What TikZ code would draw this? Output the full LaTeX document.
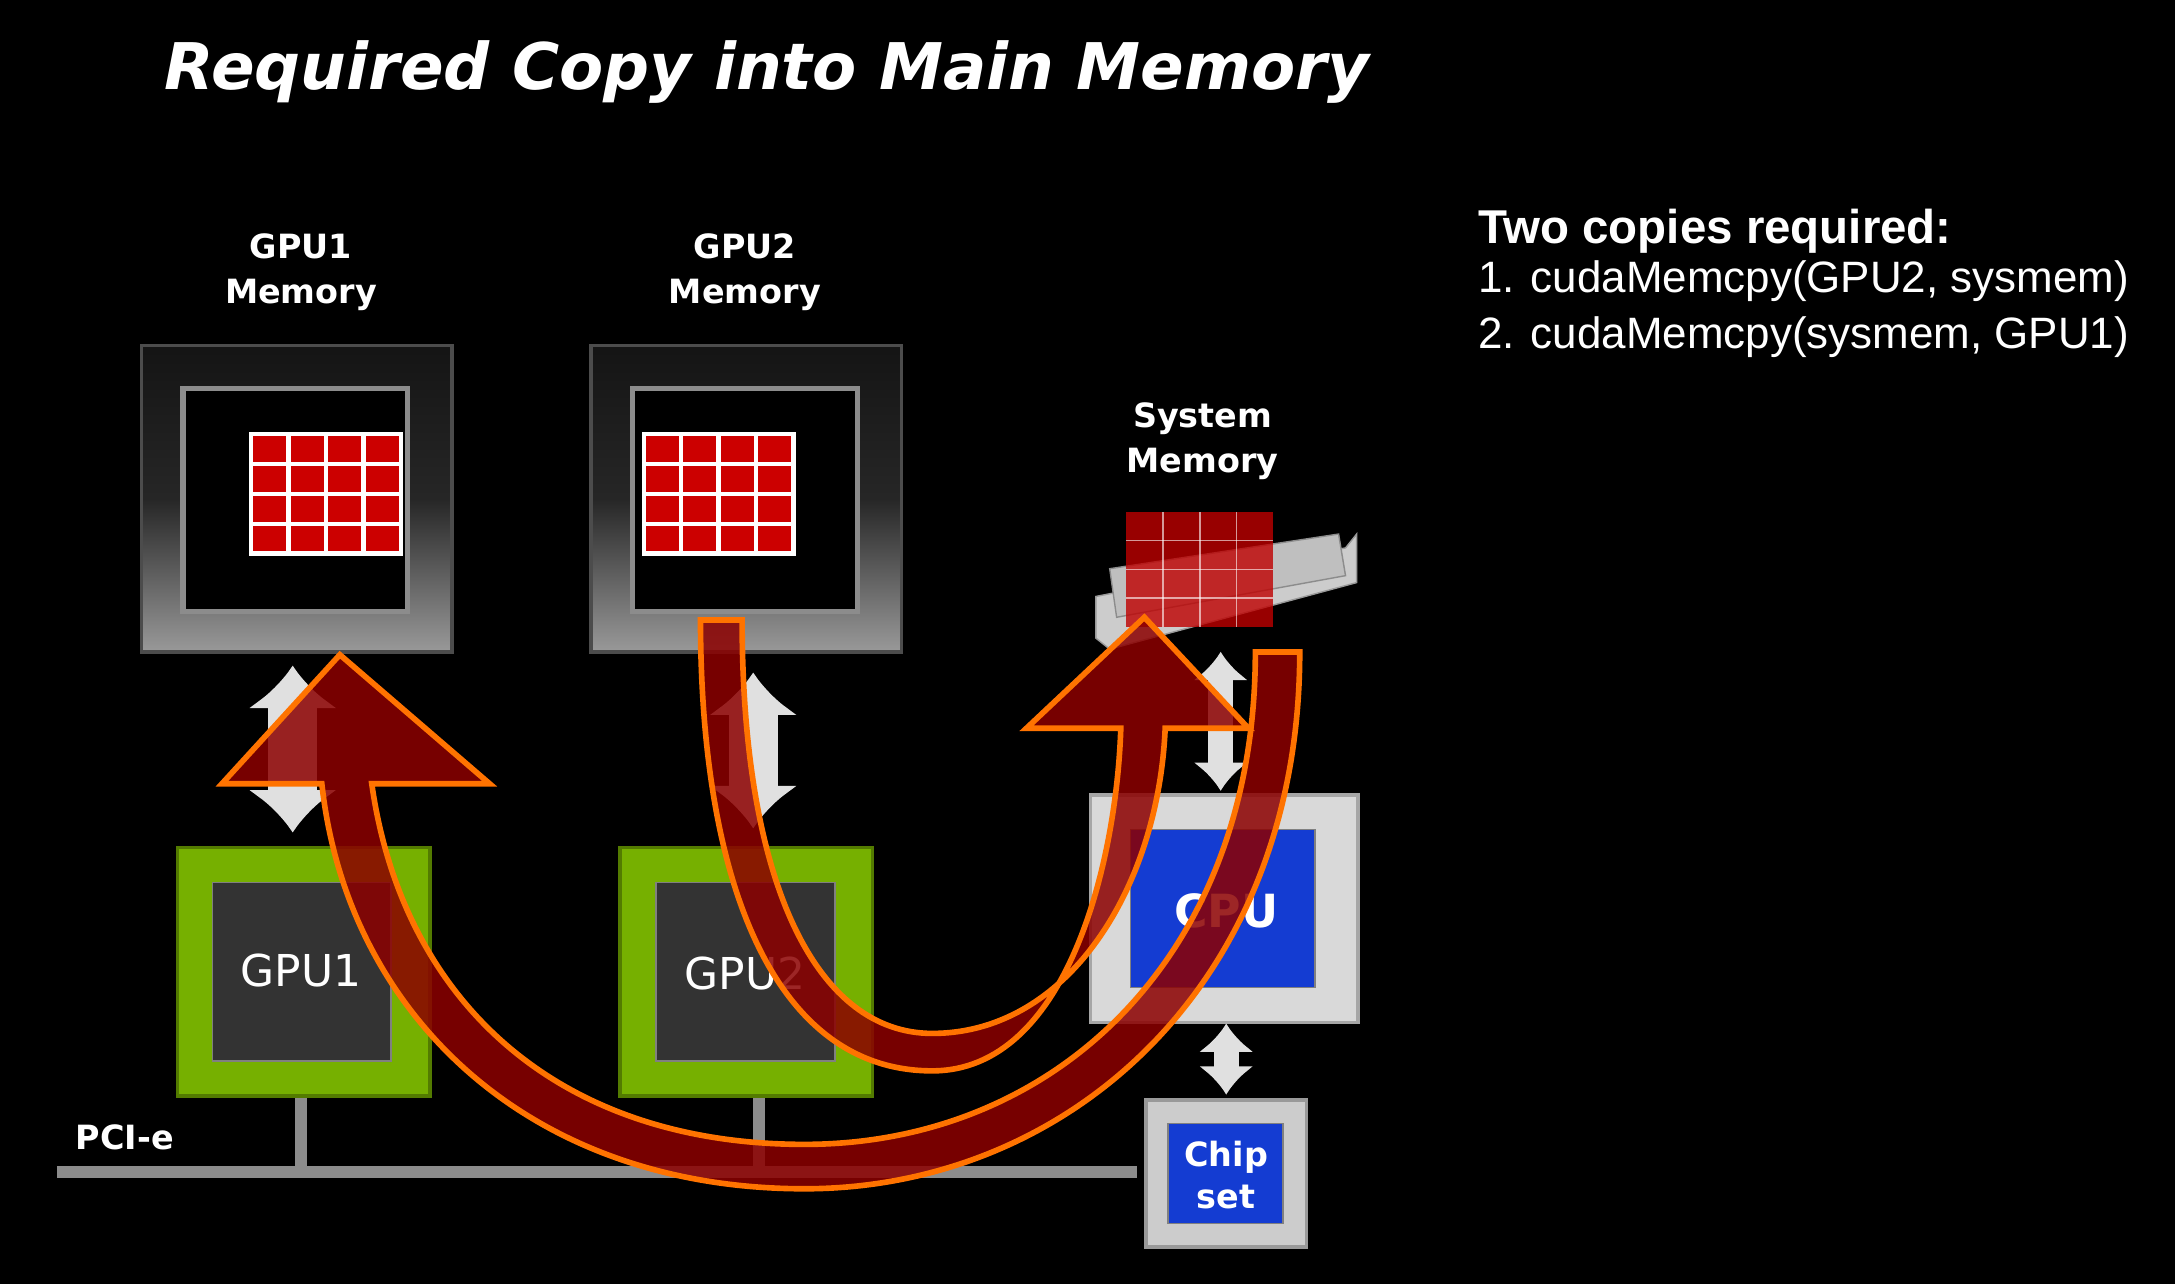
\documentclass[tikz,border=0pt]{standalone}
\usepackage{fontspec}
\usetikzlibrary{arrows.meta}
\setmainfont{DejaVu Sans}
\newfontfamily\arialf{Liberation Sans}
\definecolor{nvg}{RGB}{118,176,0}
\definecolor{cpub}{RGB}{20,60,210}
\begin{document}
\begin{tikzpicture}[x=0.01387cm,y=-0.01387cm,
  lbl/.style={text=white,font=\fontsize{9.5}{12.8}\selectfont\bfseries,align=center},
  memout/.style={draw=black!70,line width=1pt,top color=black!92,bottom color=black!40,middle color=black!85},
  memin/.style={draw=black!45,line width=1.5pt,fill=black},
  grid/.style={fill=red!80!black,draw=white,line width=1.2pt},
  gpuout/.style={fill=nvg,draw=nvg!70!black,line width=1pt},
  dblw/.style={line width=14pt,draw=black!12,{Latex[length=12pt,width=26pt]}-{Latex[length=12pt,width=26pt]}},
  dbln/.style={line width=7pt,draw=black!12,{Latex[length=8pt,width=16pt]}-{Latex[length=8pt,width=16pt]}},
  big/.style={fill=red!55!black,fill opacity=0.85,draw=orange!90!red,line width=1.6pt,draw opacity=1},
  bus/.style={draw=black!45,line width=3.5pt}]
\fill[black] (0,0) rectangle (1568,926);
\node[text=white,font=\fontsize{18.3}{22}\selectfont\bfseries\itshape] (title) at (553,52) {Required Copy into Main Memory};
\node[text=white,anchor=north west,align=left,inner sep=0pt] (note) at (1065,150)
 {\arialf\fontsize{13.5}{16}\selectfont\bfseries Two copies required:\\[2pt]
  \arialf\fontsize{12.5}{15.5}\selectfont 1. cudaMemcpy(GPU2, sysmem)\\[4pt]
  \arialf\fontsize{12.5}{15.5}\selectfont 2. cudaMemcpy(sysmem, GPU1)};
% memory boxes
\foreach \n/\x/\gx in {1/102/181,2/426/464}{
  \fill[memout] (\x,249) rectangle ++(224,221);
  \fill[memin] (\x+30,280) rectangle ++(162,161);
  \fill[grid] (\gx,313) rectangle ++(108,86);
  \foreach \i in {1,2,3} \draw[white,line width=1.2pt] (\gx+\i*27,313) -- ++(0,86);
  \foreach \j in {1,2,3} \draw[white,line width=1.2pt] (\gx,313+\j*21.5) -- ++(108,0);
}
\node[lbl] (m1) at (217,196) {GPU1\\Memory};
\node[lbl] (m2) at (537,196) {GPU2\\Memory};
\node[lbl] (sm) at (867,318) {System\\Memory};
% bus
\draw[bus] (41,845) -- (820,845);
\draw[bus] (217,790) -- (217,845);
\draw[bus] (547,790) -- (547,845);
\node[text=white,font=\fontsize{9.5}{11}\selectfont\bfseries] (pci) at (90,820) {PCI-e};
% gpus
\fill[gpuout] (128,611) rectangle (310,790);
\fill[black!80,draw=black!50] (153,636) rectangle (282,765);
\node[text=white,font=\fontsize{12.5}{14}\selectfont] (g1t) at (217,700) {GPU1};
\fill[gpuout] (447,611) rectangle (629,790);
\fill[black!80,draw=black!50] (473,636) rectangle (602,765);
\node[text=white,font=\fontsize{12.5}{14}\selectfont] (g2t) at (537,702) {GPU2};
% system memory sticks
\fill[black!20,draw=black!40] (790,430) -- (970,395) -- (978,385) -- (978,420) -- (800,468) -- (790,460) -- cycle;
\fill[black!25,draw=black!45] (800,410) -- (965,385) -- (970,415) -- (805,445) -- cycle;
\fill[red!75!black,opacity=0.8] (812,369) rectangle (918,452);
\foreach \i in {1,2,3} \draw[white,opacity=0.6] (812+\i*26.5,369) -- ++(0,83);
\foreach \j in {1,2,3} \draw[white,opacity=0.6] (812,369+\j*20.75) -- ++(106,0);
% cpu
\fill[black!15,draw=black!35,line width=1pt] (786,573) rectangle (979,737);
\fill[cpub,draw=black!50] (815,598) rectangle (948,712);
\node[text=white,font=\fontsize{13}{15}\selectfont\bfseries] (cpu) at (884,657) {CPU};
% chipset
\fill[black!20,draw=black!40,line width=1pt] (826,793) rectangle (942,899);
\fill[cpub,draw=black!50] (842,810) rectangle (925,882);
\node[text=white,font=\fontsize{9.5}{12}\selectfont\bfseries,align=center] (cs) at (884,847) {Chip\\set};
% double arrows
\coordinate (a1) at (211,480); \coordinate (b1) at (211,600);
\coordinate (a2) at (543,485); \coordinate (b2) at (543,597);
\coordinate (a3) at (880,470); \coordinate (b3) at (880,570);
\coordinate (a4) at (884,738); \coordinate (b4) at (884,789);
\draw[dblw] (a1) -- (b1);
\draw[dblw] (a2) -- (b2);
\draw[dbln] (a3) -- (b3);
\draw[dbln] (a4) -- (b4);
% big arrows
\draw[big] (937,470) .. controls (937,710) and (770,857) .. (580,857)
  .. controls (380,857) and (250,730) .. (232,565) -- (160,565) -- (245,472) -- (353,565) -- (268,565)
  .. controls (290,720) and (400,825) .. (580,825) .. controls (760,825) and (905,690) .. (905,470) -- cycle;
\draw[big] (505,447) .. controls (505,640) and (560,772) .. (672,772)
  .. controls (770,772) and (805,620) .. (808,525) -- (740,525) -- (825,445) -- (900,525) -- (840,525)
  .. controls (835,640) and (770,745) .. (672,745) .. controls (590,745) and (535,640) .. (535,447) -- cycle;
\end{tikzpicture}
\end{document}
